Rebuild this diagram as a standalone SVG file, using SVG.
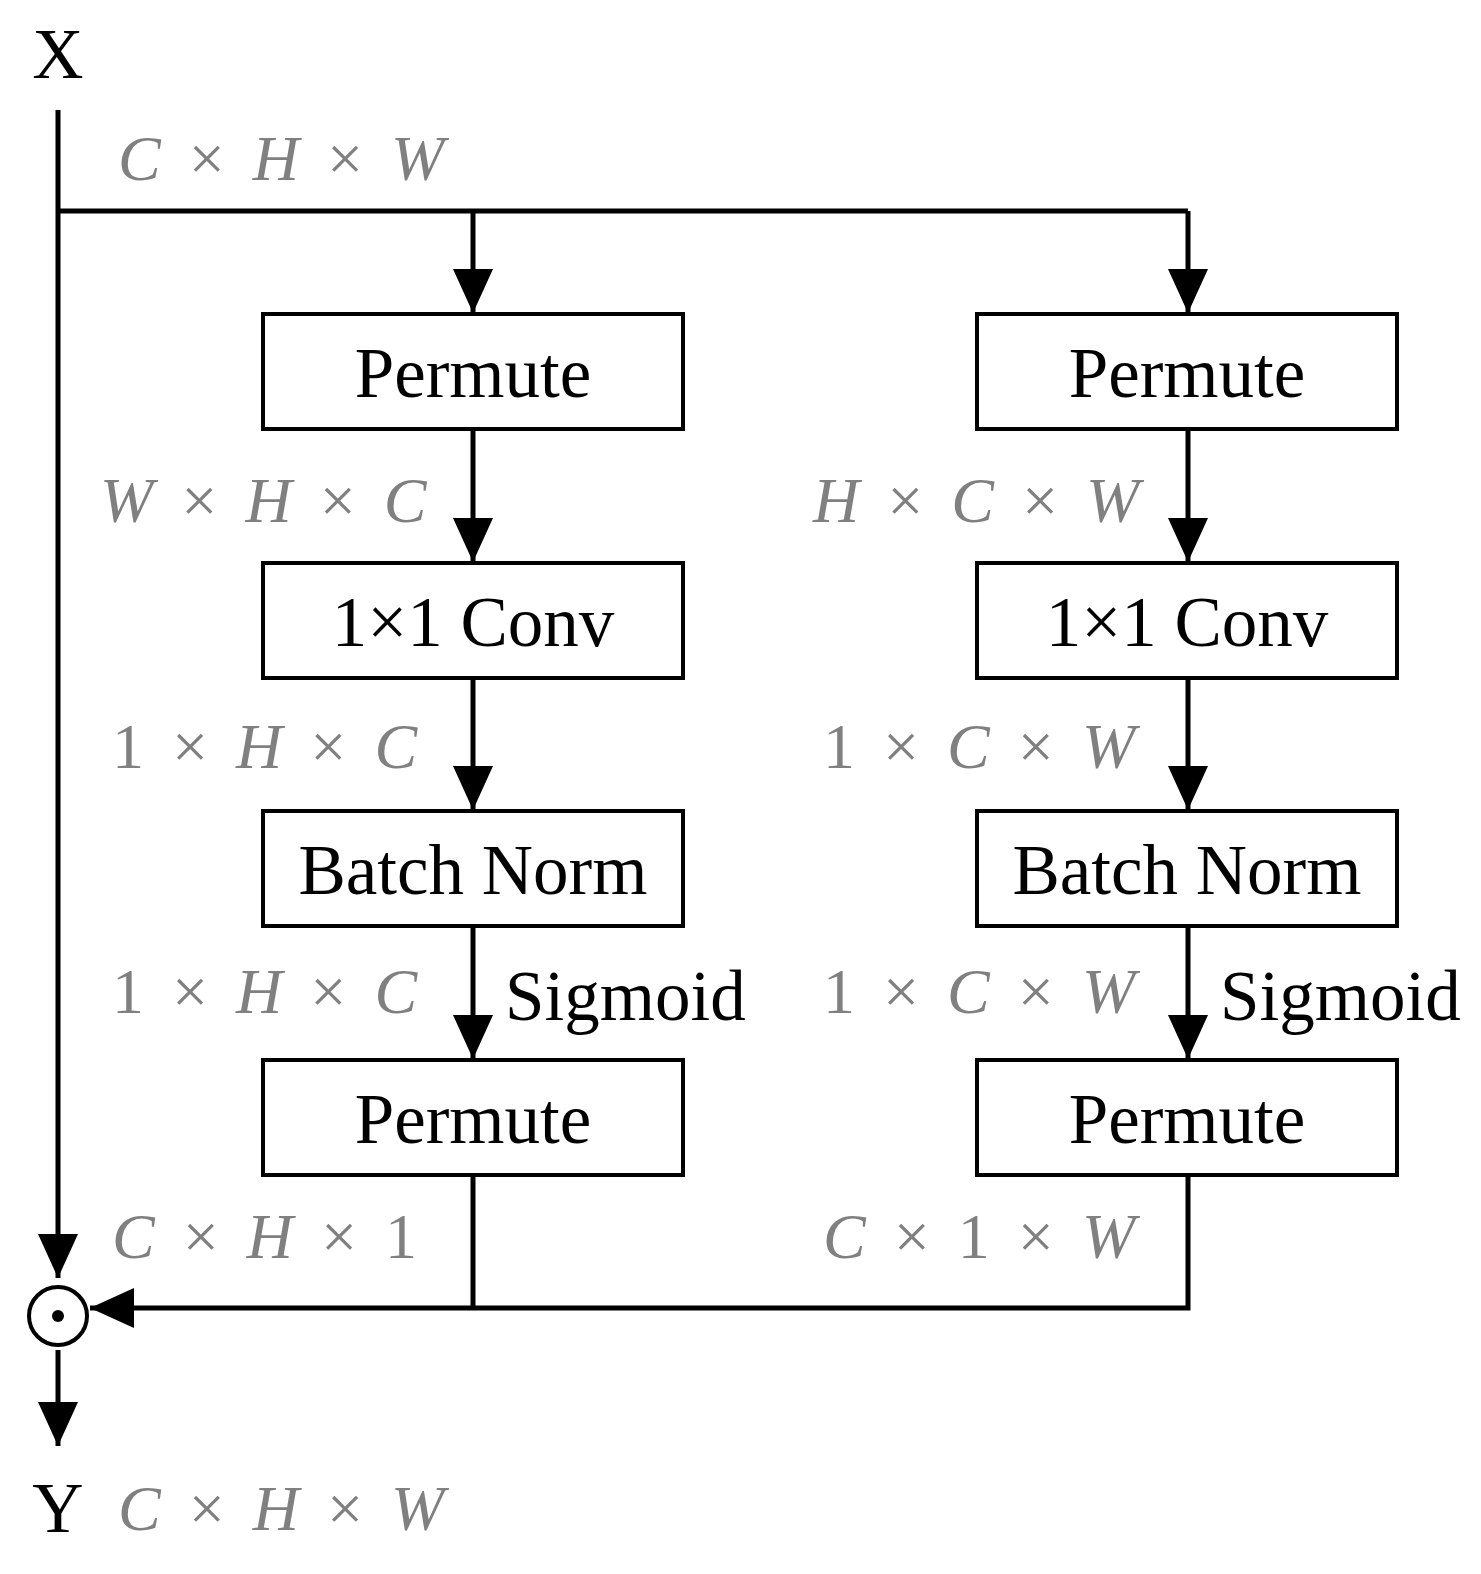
<svg xmlns="http://www.w3.org/2000/svg" width="1481" height="1574" viewBox="0 0 1481 1574">
<style>
.ln{stroke:#000;stroke-width:5;fill:none}
.bx{stroke:#000;stroke-width:4;fill:#fff}
.t{font-family:"Liberation Serif",serif;font-size:71px;fill:#000;text-anchor:middle}
.d{font-family:"Liberation Serif",serif;font-size:64px;fill:#808080;word-spacing:12px}
.i{font-style:italic}
</style>
<defs>
<marker id="a" markerUnits="userSpaceOnUse" markerWidth="44" markerHeight="44" viewBox="0 0 44 44" refX="44" refY="22" orient="auto">
<path d="M0,2 L44,22 L0,42 Z" fill="#000"/>
</marker>
</defs>
<g id="connectors">
<path class="ln" d="M58,110 V1278" marker-end="url(#a)"/>
<path class="ln" d="M58,211 H1188"/>
<path class="ln" d="M473,211 V313" marker-end="url(#a)"/>
<path class="ln" d="M1188,211 V313" marker-end="url(#a)"/>
<path class="ln" d="M473,429 V562" marker-end="url(#a)"/>
<path class="ln" d="M1188,429 V562" marker-end="url(#a)"/>
<path class="ln" d="M473,678 V810" marker-end="url(#a)"/>
<path class="ln" d="M1188,678 V810" marker-end="url(#a)"/>
<path class="ln" d="M473,926 V1059" marker-end="url(#a)"/>
<path class="ln" d="M1188,926 V1059" marker-end="url(#a)"/>
<path class="ln" d="M473,1175 V1308"/>
<path class="ln" d="M1188,1175 V1308 H90" marker-end="url(#a)"/>
<path class="ln" d="M58,1350 V1446" marker-end="url(#a)"/>
</g>
<g id="mul"><circle cx="58" cy="1316" r="29" class="bx" stroke-width="5"/><circle cx="58" cy="1316" r="6" fill="#000"/></g>
<g id="l1"><rect class="bx" x="263" y="314" width="420" height="115"/><text class="t" x="473" y="397">Permute</text></g>
<g id="l2"><rect class="bx" x="263" y="563" width="420" height="115"/><text class="t" x="473" y="646">1×1 Conv</text></g>
<g id="l3"><rect class="bx" x="263" y="811" width="420" height="115"/><text class="t" x="473" y="894">Batch Norm</text></g>
<g id="l4"><rect class="bx" x="263" y="1060" width="420" height="115"/><text class="t" x="473" y="1143">Permute</text></g>
<g id="r1"><rect class="bx" x="977" y="314" width="420" height="115"/><text class="t" x="1187" y="397">Permute</text></g>
<g id="r2"><rect class="bx" x="977" y="563" width="420" height="115"/><text class="t" x="1187" y="646">1×1 Conv</text></g>
<g id="r3"><rect class="bx" x="977" y="811" width="420" height="115"/><text class="t" x="1187" y="894">Batch Norm</text></g>
<g id="r4"><rect class="bx" x="977" y="1060" width="420" height="115"/><text class="t" x="1187" y="1143">Permute</text></g>
<g id="labels">
<text class="t" x="58" y="78">X</text>
<text class="t" x="58" y="1532">Y</text>
<text class="t" x="505" y="1020" style="text-anchor:start">Sigmoid</text>
<text class="t" x="1220" y="1020" style="text-anchor:start">Sigmoid</text>
<text class="d" x="118" y="180"><tspan class="i">C</tspan> × <tspan class="i">H</tspan> × <tspan class="i">W</tspan></text>
<text class="d" x="118" y="1530"><tspan class="i">C</tspan> × <tspan class="i">H</tspan> × <tspan class="i">W</tspan></text>
<text class="d" x="100" y="522"><tspan class="i">W</tspan> × <tspan class="i">H</tspan> × <tspan class="i">C</tspan></text>
<text class="d" x="112" y="768">1 × <tspan class="i">H</tspan> × <tspan class="i">C</tspan></text>
<text class="d" x="112" y="1013">1 × <tspan class="i">H</tspan> × <tspan class="i">C</tspan></text>
<text class="d" x="112" y="1258"><tspan class="i">C</tspan> × <tspan class="i">H</tspan> × 1</text>
<text class="d" x="813" y="522"><tspan class="i">H</tspan> × <tspan class="i">C</tspan> × <tspan class="i">W</tspan></text>
<text class="d" x="823" y="768">1 × <tspan class="i">C</tspan> × <tspan class="i">W</tspan></text>
<text class="d" x="823" y="1013">1 × <tspan class="i">C</tspan> × <tspan class="i">W</tspan></text>
<text class="d" x="823" y="1258"><tspan class="i">C</tspan> × 1 × <tspan class="i">W</tspan></text>
</g>
</svg>
